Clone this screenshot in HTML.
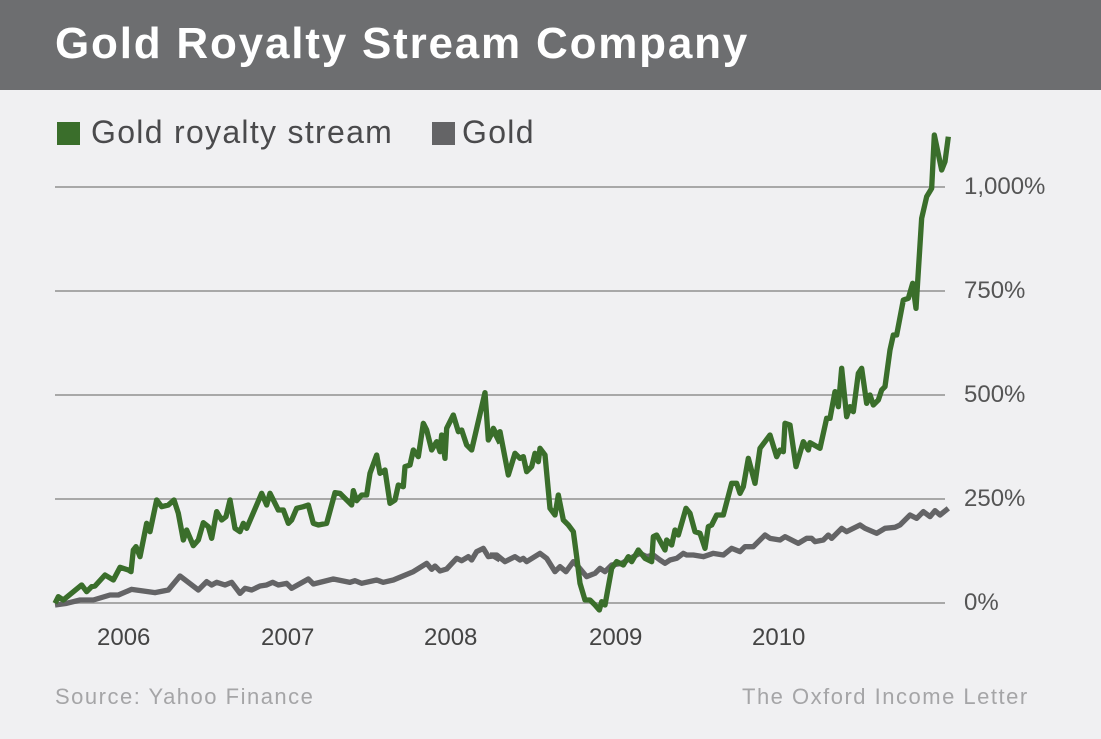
<!DOCTYPE html>
<html><head><style>
body{margin:0;background:#f0f0f2;font-family:"Liberation Sans",sans-serif;}
.wrap{position:relative;width:1101px;height:739px;overflow:hidden;background:#f0f0f2;}
.hdr{position:absolute;left:0;top:0;width:1101px;height:90px;background:#6d6e70;}
.t{position:absolute;color:#fff;font-weight:bold;font-size:44px;left:55px;top:19px;letter-spacing:1.8px;}
.lg{position:absolute;font-size:32px;color:#4a4a4c;top:114px;letter-spacing:1.3px;}
.sq{position:absolute;width:23px;height:23px;top:122px;}
.yl{position:absolute;left:964px;font-size:24px;color:#555;}
.xl{position:absolute;top:624px;font-size:24px;color:#444;}
.ft{position:absolute;top:684px;font-size:22px;color:#a5a5a7;letter-spacing:1.5px;}
</style></head><body><div class="wrap">
<div class="hdr"></div><div class="t">Gold Royalty Stream Company</div>
<div class="sq" style="left:57px;background:#3a6e2b"></div><div class="lg" style="left:91px">Gold royalty stream</div>
<div class="sq" style="left:432px;background:#646466"></div><div class="lg" style="left:462px">Gold</div>
<svg width="1101" height="739" style="position:absolute;left:0;top:0">
<g stroke="#a8a8a8" stroke-width="2">
<line x1="55" x2="945" y1="187" y2="187"/><line x1="55" x2="945" y1="291" y2="291"/><line x1="55" x2="945" y1="395" y2="395"/><line x1="55" x2="945" y1="499" y2="499"/><line x1="55" x2="945" y1="603" y2="603"/>
</g>
<g transform="translate(50,370) scale(0.33333)" fill="none" stroke-width="16" stroke-linejoin="round">
<polyline stroke="#646466" points="15,705 50,700 90,690 130,690 180,675 205,675 245,658 315,668 355,660 390,618 445,660 470,635 485,645 500,637 525,645 545,637 570,670 585,655 605,660 630,648 650,645 668,637 685,645 710,640 725,655 775,627 790,642 850,627 900,637 915,632 935,640 980,630 1000,637 1030,630 1090,605 1130,580 1145,598 1155,588 1170,603 1190,597 1220,565 1235,572 1255,560 1265,570 1280,545 1300,535 1315,560 1330,558 1350,570"/>
<polyline stroke="#3a6e2b" points="15,700 25,680 40,690 95,645 110,665 125,650 135,648 165,615 190,630 210,592 235,600 243,605 250,540 258,530 270,560 290,460 300,485 320,390 335,410 355,405 372,390 385,430 400,510 410,480 430,527 445,510 460,458 475,470 485,505 500,425 515,450 528,440 540,390 555,475 570,485 580,460 590,475 635,370 650,405 660,370 685,420 700,420 715,460 725,450 740,415 760,410 775,405 790,460 805,465 830,460 855,368 870,370 905,405 910,362 920,392 935,375 950,375 960,310 980,255 990,310 1005,300 1020,400 1035,390 1045,345 1060,350 1065,290 1080,285 1090,240 1105,260 1120,160 1130,180 1145,240 1160,215 1170,245 1175,195 1185,265 1190,175 1210,135 1225,185 1235,180 1250,225 1265,240 1305,68 1315,210 1330,180 1350,220"/>
</g>
<g transform="translate(490,120) scale(0.33333)" fill="none" stroke-width="16" stroke-linejoin="round">
<polyline stroke="#646466" points="0,1305 20,1305 45,1325 75,1310 90,1320 100,1315 110,1325 150,1300 170,1315 195,1355 210,1340 228,1355 250,1325 265,1340 290,1370 315,1360 330,1345 345,1355 365,1335 395,1330 430,1310 450,1300 470,1310 490,1305 510,1320 525,1330 540,1320 560,1315 580,1300 590,1305 610,1305 640,1310 670,1300 700,1305 725,1285 750,1295 765,1280 790,1280 825,1245 840,1255 870,1260 885,1250 925,1270 950,1255 965,1255 975,1265 1000,1260 1015,1245 1025,1255 1055,1225 1070,1235 1110,1215 1125,1225 1160,1240 1185,1225 1215,1222 1230,1215 1260,1185 1280,1195 1300,1175 1320,1190 1335,1172 1350,1185 1375,1165"/>
<polyline stroke="#3a6e2b" points="0,950 10,925 20,945 30,935 55,1065 75,1000 90,1015 100,1010 110,1055 125,1040 135,1000 145,1025 150,985 165,1005 180,1165 195,1185 205,1125 220,1200 235,1215 250,1235 260,1310 270,1390 285,1440 300,1440 315,1455 328,1470 335,1445 345,1455 365,1345 380,1325 400,1335 415,1310 425,1325 445,1290 465,1315 485,1325 490,1250 500,1245 525,1290 530,1260 545,1275 555,1230 565,1245 588,1165 600,1180 615,1235 630,1240 645,1285 655,1220 665,1215 680,1185 700,1185 725,1090 740,1090 750,1120 760,1100 775,1015 795,1090 810,985 840,945 860,1010 870,990 880,995 885,910 900,915 918,1040 940,965 955,990 960,968 990,985 1010,895 1020,895 1035,815 1045,860 1055,745 1070,890 1080,860 1090,875 1105,760 1115,745 1130,850 1140,825 1150,855 1165,840 1175,810 1185,800 1200,690 1210,645 1220,645 1240,540 1255,535 1268,490 1278,565 1295,295 1310,230 1325,205 1333,45 1355,150 1365,125 1375,50"/>
</g>
</svg>
<div class="yl" style="top:173px">1,000%</div><div class="yl" style="top:277px">750%</div><div class="yl" style="top:381px">500%</div><div class="yl" style="top:485px">250%</div><div class="yl" style="top:589px">0%</div>
<div class="xl" style="left:97px">2006</div><div class="xl" style="left:261px">2007</div><div class="xl" style="left:424px">2008</div><div class="xl" style="left:589px">2009</div><div class="xl" style="left:752px">2010</div>
<div class="ft" style="left:55px">Source: Yahoo Finance</div><div class="ft" style="left:742px">The Oxford Income Letter</div>
</div></body></html>
